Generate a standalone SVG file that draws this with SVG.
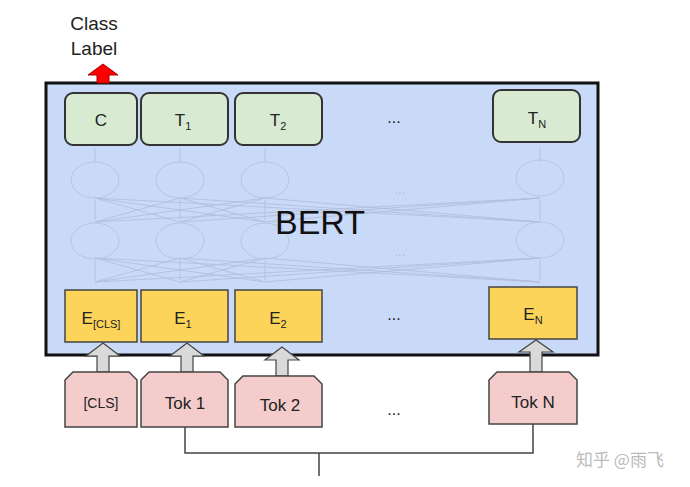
<svg xmlns="http://www.w3.org/2000/svg" width="690" height="487" viewBox="0 0 690 487">
<style>
text{font-family:"Liberation Sans",Arial,sans-serif;fill:#222}
.g{fill:#d9ead3;stroke:#333;stroke-width:2}
.y{fill:#fcd45a;stroke:#444;stroke-width:1.5}
.p{fill:#f4cccc;stroke:#444;stroke-width:1.5}
.ga{fill:#d9d9d9;stroke:#444;stroke-width:1.2}
.e{fill:none;stroke:#b8c4dc;stroke-width:1}
.l{stroke:#b0bcd6;stroke-width:0.8;fill:none}
.lbl{font-size:17px;text-anchor:middle}
.sub{font-size:11px}
</style>
<rect width="690" height="487" fill="#fff"/>
<text x="94" y="30" font-size="19" text-anchor="middle">Class</text>
<text x="94" y="55" font-size="19" text-anchor="middle">Label</text>
<rect x="46" y="83" width="552" height="272" fill="#c9daf8" stroke="#111" stroke-width="3"/>
<polygon points="97,83 97,75 88,75 103,64 118,75 109,75 109,83" fill="#f00" stroke="#a00" stroke-width="1"/>
<g id="connectors">
<g class="l">
<path d="M95,280 L95,260 M180,280 L180,260 M265,280 L265,260 M540,280 L540,260 M95,220 L95,200 M180,220 L180,200 M265,220 L265,200 M540,220 L540,200 M95,162 L95,148 M180,162 L180,148 M265,162 L265,148 M540,162 L540,148"/>
<path d="M95,282 L180,258 M95,282 L265,258 M95,282 L540,258 M180,282 L95,258 M180,282 L265,258 M180,282 L540,258 M265,282 L95,258 M265,282 L180,258 M265,282 L540,258 M540,282 L95,258 M540,282 L180,258 M540,282 L265,258"/>
<path d="M95,222 L180,198 M95,222 L265,198 M95,222 L540,198 M180,222 L95,198 M180,222 L265,198 M180,222 L540,198 M265,222 L95,198 M265,222 L180,198 M265,222 L540,198 M540,222 L95,198 M540,222 L180,198 M540,222 L265,198"/>
</g>
<path d="M185,427 L185,453 L533,453 L533,424 M319,453 L319,476" fill="none" stroke="#444" stroke-width="1.5"/>
<polygon points="97,372 97,356 86,356 103,343 120,356 109,356 109,372" class="ga"/>
<polygon points="181,372 181,356 170,356 187,343 204,356 193,356 193,372" class="ga"/>
<polygon points="276,376 276,360 265,360 282,347 299,360 288,360 288,376" class="ga"/>
<polygon points="530,372 530,352 519,352 536,340 553,352 542,352 542,372" class="ga"/>
</g>
<g class="e">
<ellipse cx="95" cy="180" rx="24" ry="18"/><ellipse cx="180" cy="180" rx="24" ry="18"/><ellipse cx="265" cy="180" rx="24" ry="18"/><ellipse cx="540" cy="178" rx="24" ry="18"/>
<ellipse cx="95" cy="241" rx="24" ry="18"/><ellipse cx="180" cy="241" rx="24" ry="18"/><ellipse cx="265" cy="241" rx="24" ry="18"/><ellipse cx="540" cy="240" rx="24" ry="18"/>
</g>
<text x="400" y="194" font-size="14" text-anchor="middle" style="fill:#b8c4dc">...</text>
<text x="400" y="256" font-size="14" text-anchor="middle" style="fill:#b8c4dc">...</text>
<text x="320" y="234" font-size="34" text-anchor="middle" style="fill:#111">BERT</text>
<g id="C"><rect class="g" x="65" y="93" width="72" height="52" rx="8"/><text class="lbl" x="101" y="126">C</text></g>
<g id="T1"><rect class="g" x="141" y="93" width="87" height="52" rx="8"/><text class="lbl" x="183" y="126">T<tspan class="sub" dy="4">1</tspan></text></g>
<g id="T2"><rect class="g" x="235" y="93" width="87" height="52" rx="8"/><text class="lbl" x="278" y="126">T<tspan class="sub" dy="4">2</tspan></text></g>
<text x="394" y="123" font-size="16" text-anchor="middle">...</text>
<g id="TN"><rect class="g" x="493" y="90" width="87" height="52" rx="8"/><text class="lbl" x="537" y="124">T<tspan class="sub" dy="4">N</tspan></text></g>
<g id="ECLS"><rect class="y" x="65" y="290" width="72" height="52"/><text class="lbl" x="101" y="324">E<tspan class="sub" dy="4">[CLS]</tspan></text></g>
<g id="E1"><rect class="y" x="141" y="290" width="87" height="52"/><text class="lbl" x="183" y="324">E<tspan class="sub" dy="4">1</tspan></text></g>
<g id="E2"><rect class="y" x="235" y="290" width="87" height="52"/><text class="lbl" x="278" y="324">E<tspan class="sub" dy="4">2</tspan></text></g>
<text x="394" y="320" font-size="16" text-anchor="middle">...</text>
<g id="EN"><rect class="y" x="489" y="287" width="88" height="52"/><text class="lbl" x="533" y="320">E<tspan class="sub" dy="4">N</tspan></text></g>
<g id="CLS"><polygon class="p" points="65,380 73,372 129,372 137,380 137,427 65,427"/><text x="101" y="408" font-size="14" text-anchor="middle">[CLS]</text></g>
<g id="Tok1"><polygon class="p" points="141,380 149,372 220,372 228,380 228,427 141,427"/><text class="lbl" x="185" y="409">Tok 1</text></g>
<g id="Tok2"><polygon class="p" points="235,384 243,376 314,376 322,384 322,427 235,427"/><text class="lbl" x="280" y="411">Tok 2</text></g>
<text x="394" y="415" font-size="16" text-anchor="middle">...</text>
<g id="TokN"><polygon class="p" points="489,380 497,372 569,372 577,380 577,424 489,424"/><text class="lbl" x="533" y="408">Tok N</text></g>
<text x="620" y="466" font-size="17" text-anchor="middle" style="fill:#bbb;font-family:'Noto Sans CJK SC',sans-serif">知乎 @雨飞</text>
</svg>
